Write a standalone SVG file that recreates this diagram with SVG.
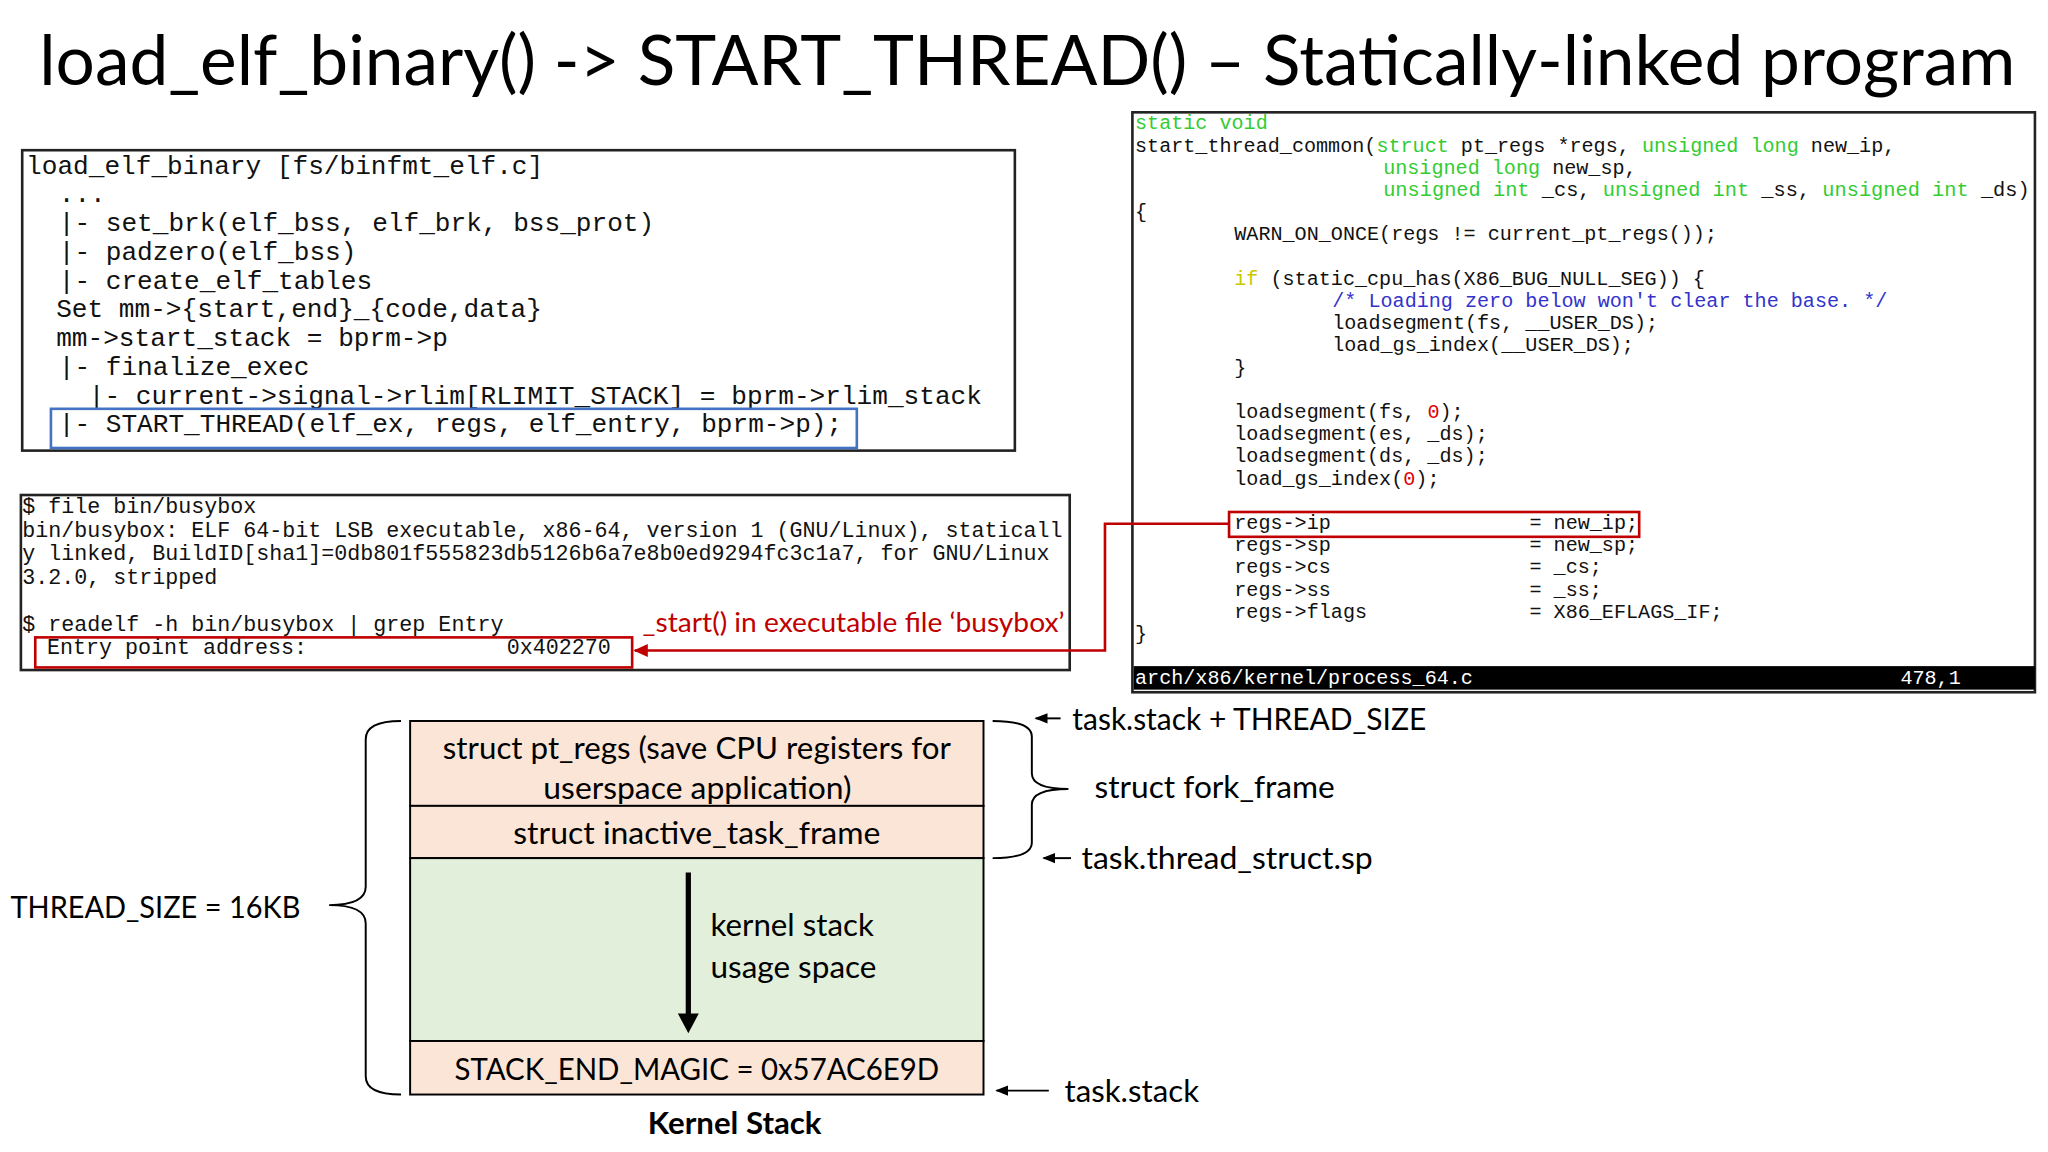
<svg xmlns="http://www.w3.org/2000/svg" width="2048" height="1152" viewBox="0 0 2048 1152">
<style>
.t{font-family:Lato,"Open Sans",sans-serif;fill:#000}
.m{font-family:"Liberation Mono","DejaVu Sans Mono",monospace;fill:#111}
.g{fill:#33cc33}.b{fill:#3333cc}.r{fill:#e00000}.y{fill:#c8c800}
.box{fill:#fff;stroke:#222;stroke-width:2}
.pe{fill:#fbe5d6;stroke:#000;stroke-width:1.5}
.gr{fill:#e2efda;stroke:#000;stroke-width:1.5}
.red{fill:none;stroke:#c00000;stroke-width:2}
.ln{fill:none;stroke:#000;stroke-width:1.5}
</style>
<defs>
<marker id="ah" markerWidth="10" markerHeight="10" refX="9" refY="5" orient="auto" markerUnits="userSpaceOnUse"><path d="M0,1 L10,5 L0,9 z" fill="#000"/></marker>
<marker id="ahr" markerWidth="12" markerHeight="12" refX="10" refY="6" orient="auto" markerUnits="userSpaceOnUse"><path d="M0,1 L11,6 L0,11 z" fill="#c00000"/></marker>
</defs>
<rect width="2048" height="1152" fill="#fff"/>
<g transform="scale(1.30612)">
<text class="t" x="30" y="65" font-size="54" textLength="1513" lengthAdjust="spacingAndGlyphs">load_elf_binary() -&gt; START_THREAD() – Statically-linked program</text>

<g id="load_elf_box">
<rect class="box" x="17" y="115" width="760" height="230"/>
<g class="m" font-size="20" xml:space="preserve">
<text x="20" y="133">load_elf_binary [fs/binfmt_elf.c]</text>
<text x="45" y="155">...</text>
<text x="45" y="177">|- set_brk(elf_bss, elf_brk, bss_prot)</text>
<text x="45" y="199">|- padzero(elf_bss)</text>
<text x="45" y="221">|- create_elf_tables</text>
<text x="43" y="243">Set mm-&gt;{start,end}_{code,data}</text>
<text x="43" y="265">mm-&gt;start_stack = bprm-&gt;p</text>
<text x="45" y="287">|- finalize_exec</text>
<text x="68" y="309">|- current-&gt;signal-&gt;rlim[RLIMIT_STACK] = bprm-&gt;rlim_stack</text>
<text x="45" y="331">|- START_THREAD(elf_ex, regs, elf_entry, bprm-&gt;p);</text>
</g>
<rect x="39" y="313" width="617" height="30" fill="none" stroke="#4472c4" stroke-width="2"/>
</g>

<g id="busybox_box">
<rect class="box" x="16" y="379" width="803" height="134"/>
<g class="m" font-size="16.6" xml:space="preserve">
<text x="17" y="393">$ file bin/busybox</text>
<text x="17" y="411">bin/busybox: ELF 64-bit LSB executable, x86-64, version 1 (GNU/Linux), staticall</text>
<text x="17" y="429">y linked, BuildID[sha1]=0db801f555823db5126b6a7e8b0ed9294fc3c1a7, for GNU/Linux</text>
<text x="17" y="447">3.2.0, stripped</text>
<text x="17" y="483">$ readelf -h bin/busybox | grep Entry</text>
<text x="36" y="501">Entry point address:</text>
<text x="388" y="501">0x402270</text>
</g>
<rect class="red" x="27" y="488" width="457" height="23"/>
<text class="t" x="492" y="484" font-size="21" style="fill:#c00000" textLength="323" lengthAdjust="spacingAndGlyphs">_start() in executable file ‘busybox’</text>
</g>

<g id="start_thread_common_box">
<rect class="box" x="867" y="86" width="691" height="444"/>
<g class="m" font-size="15.4" xml:space="preserve">
<text x="869" y="99" class="g">static void</text>
<text x="869" y="116">start_thread_common(<tspan class="g">struct</tspan> pt_regs *regs, <tspan class="g">unsigned long</tspan> new_ip,</text>
<text x="1059" y="133"><tspan class="g">unsigned long</tspan> new_sp,</text>
<text x="1059" y="150" textLength="495" lengthAdjust="spacingAndGlyphs"><tspan class="g">unsigned int</tspan> _cs, <tspan class="g">unsigned int</tspan> _ss, <tspan class="g">unsigned int</tspan> _ds)</text>
<text x="869" y="167">{</text>
<text x="945" y="184">WARN_ON_ONCE(regs != current_pt_regs());</text>
<text x="945" y="218"><tspan class="y">if</tspan> (static_cpu_has(X86_BUG_NULL_SEG)) {</text>
<text x="1020" y="235" class="b">/* Loading zero below won't clear the base. */</text>
<text x="1020" y="252">loadsegment(fs, __USER_DS);</text>
<text x="1020" y="269">load_gs_index(__USER_DS);</text>
<text x="945" y="286">}</text>
<text x="945" y="320">loadsegment(fs, <tspan class="r">0</tspan>);</text>
<text x="945" y="337">loadsegment(es, _ds);</text>
<text x="945" y="354">loadsegment(ds, _ds);</text>
<text x="945" y="371">load_gs_index(<tspan class="r">0</tspan>);</text>
<text x="945" y="405">regs-&gt;ip</text><text x="1171" y="405">= new_ip;</text>
<text x="945" y="422">regs-&gt;sp</text><text x="1171" y="422">= new_sp;</text>
<text x="945" y="439">regs-&gt;cs</text><text x="1171" y="439">= _cs;</text>
<text x="945" y="456">regs-&gt;ss</text><text x="1171" y="456">= _ss;</text>
<text x="945" y="473">regs-&gt;flags</text><text x="1171" y="473">= X86_EFLAGS_IF;</text>
<text x="869" y="490">}</text>
</g>
<rect x="868" y="510" width="690" height="18" fill="#000"/>
<text class="m" x="869" y="524" font-size="15.4" style="fill:#fff">arch/x86/kernel/process_64.c</text>
<text class="m" x="1455" y="524" font-size="15.4" style="fill:#fff">478,1</text>
<rect class="red" x="941" y="392" width="314" height="19"/>
</g>

<g id="kernel_stack">
<rect class="pe" x="314" y="552" width="439" height="65"/>
<rect class="pe" x="314" y="617" width="439" height="40"/>
<rect class="gr" x="314" y="657" width="439" height="140"/>
<rect class="pe" x="314" y="797" width="439" height="41"/>
<g class="t" font-size="23">
<text x="339" y="581" textLength="389" lengthAdjust="spacingAndGlyphs">struct pt_regs (save CPU registers for</text>
<text x="416" y="612" textLength="236" lengthAdjust="spacingAndGlyphs">userspace application)</text>
<text x="393" y="646" textLength="281" lengthAdjust="spacingAndGlyphs">struct inactive_task_frame</text>
<text x="544" y="717" textLength="125" lengthAdjust="spacingAndGlyphs">kernel stack</text>
<text x="544" y="749" textLength="127" lengthAdjust="spacingAndGlyphs">usage space</text>
<text x="348" y="827" textLength="371" lengthAdjust="spacingAndGlyphs">STACK_END_MAGIC = 0x57AC6E9D</text>
<text x="496" y="868" font-weight="bold" textLength="133" lengthAdjust="spacingAndGlyphs">Kernel Stack</text>
<text x="8" y="703" textLength="222" lengthAdjust="spacingAndGlyphs">THREAD_SIZE = 16KB</text>
<text x="821" y="559" textLength="271" lengthAdjust="spacingAndGlyphs">task.stack + THREAD_SIZE</text>
<text x="838" y="611" textLength="184" lengthAdjust="spacingAndGlyphs">struct fork_frame</text>
<text x="828" y="665" textLength="223" lengthAdjust="spacingAndGlyphs">task.thread_struct.sp</text>
<text x="815" y="844" textLength="103" lengthAdjust="spacingAndGlyphs">task.stack</text>
</g>
</g>

<g id="connectors">
<path class="red" d="M941,401 H846 V498 H486" marker-end="url(#ahr)"/>
<line class="ln" x1="812" y1="550" x2="793" y2="550" marker-end="url(#ah)"/>
<line class="ln" x1="820" y1="657" x2="799" y2="657" marker-end="url(#ah)"/>
<line class="ln" x1="803" y1="835" x2="763" y2="835" marker-end="url(#ah)"/>
<line x1="527" y1="668" x2="527" y2="780" stroke="#000" stroke-width="4"/>
<path d="M519,776 L535,776 L527,791 z" fill="#000"/>
<path class="ln" d="M307,552 Q280,552 280,566 V679 Q280,693 252,693 Q280,693 280,707 V824 Q280,838 307,838"/>
<path class="ln" d="M760,552 Q790,552 790,564 V592 Q790,604 818,604 Q790,604 790,616 V645 Q790,657 760,657"/>
</g>
</g>
</svg>
